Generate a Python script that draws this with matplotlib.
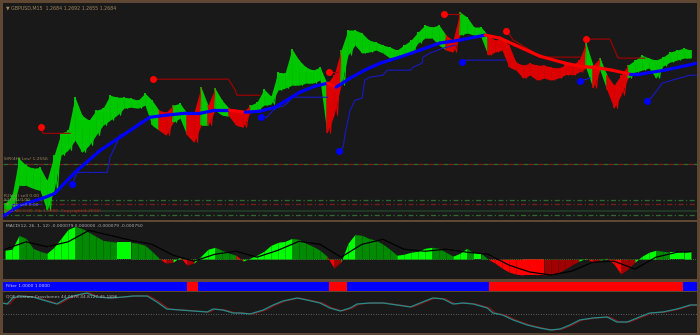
import numpy as np
import matplotlib
matplotlib.use('Agg')
import matplotlib.pyplot as plt
from matplotlib.collections import LineCollection

# ---------------- data ----------------
BASE = 1.2500   # prices below are given in pips above this level
PIP = 0.0001

# one bar every ~7 px; high / low in pips
high_pips = [17, 25, 62, 55, 52, 53, 40, 65, 87, 90,
             123, 105, 100, 110, 112, 125, 123, 123, 122, 120,
             127, 120, 110, 108, 115, 117, 107, 108, 133, 115,
             132, 120, 112, 110, 108, 115, 118, 131, 124, 148,
             147, 171, 160, 153, 150, 153, 137, 145, 170, 190,
             190, 187, 180, 178, 175, 173, 170, 175, 180, 188,
             195, 193, 195, 185, 180, 208, 203, 193, 193, 185,
             180, 182, 175, 158, 155, 157, 155, 155, 153, 152,
             155, 155, 160, 177, 155, 162, 145, 135, 145, 155,
             160, 165, 162, 160, 163, 168, 170, 172, 170]
low_pips = [7, 10, 35, 35, 32, 30, 10, 30, 65, 70,
            80, 68, 75, 85, 95, 100, 105, 112, 113, 112,
            115, 95, 90, 85, 98, 102, 85, 78, 95, 95,
            110, 105, 104, 95, 93, 108, 110, 115, 116, 130,
            132, 135, 135, 137, 137, 140, 87, 105, 135, 165,
            175, 167, 168, 170, 167, 162, 163, 165, 167, 177,
            182, 182, 175, 170, 168, 185, 187, 185, 183, 165,
            168, 170, 153, 150, 142, 145, 140, 142, 140, 142,
            145, 145, 148, 152, 132, 150, 130, 112, 125, 142,
            148, 150, 152, 142, 154, 158, 160, 162, 162]

# thick moving average (bar index, pips)
ma_bar = [-0.3, 2.1, 5.7, 7.1, 10.0, 13.6, 16.4, 20.7, 22.9, 25.7,
          27.9, 30.0, 32.1, 34.3, 36.4, 38.6, 42.1, 44.3, 46.1, 47.3,
          49.3, 51.4, 53.6, 56.4, 59.3, 62.1, 65.0, 68.6, 70.7, 72.9,
          76.4, 80.0, 82.1, 85.0, 86.7, 89.3, 90.7, 94.3, 98.9]
ma_pips = [4, 15, 23, 27, 48, 70, 83, 103, 105, 107,
           107, 110, 110, 108, 109, 113, 128, 134, 137, 133,
           142, 150, 157, 163, 170, 177, 180, 185, 182, 175,
           164, 157, 154, 152, 150, 146, 146, 150, 157]

# thin trailing stops
red_stop_x = [[5.1, 5.4, 9.3], [21.1, 31.9, 32.9, 33.1, 36.4], [46.3, 47.6],
              [62.7, 65.0], [71.6, 72.1, 72.6, 76.7, 82.1], [83.0, 86.4, 87.6, 91.4]]
red_stop_y = [[93, 87, 87], [141, 141, 130, 125, 125], [148, 148],
              [206, 206], [189, 185, 180, 163, 163], [181, 181, 162, 162]]
red_dot_x = [5.1, 21.1, 46.3, 62.7, 71.6, 83.0]
red_dot_y = [93, 141, 148, 206, 189, 181]

blue_stop_x = [[1.0, 1.0, 5.0],
               [9.6, 10.3, 14.6, 15.0, 16.0, 16.4, 17.4, 19.3, 20.3],
               [36.6, 37.4, 38.3, 39.0, 39.7, 40.3, 41.1, 46.1],
               [47.7, 48.3, 48.6, 49.3, 50.0, 51.0, 51.4, 52.1, 54.0, 54.6,
                57.9, 58.3, 59.6, 59.7, 60.7, 62.6, 64.3],
               [65.3, 65.7, 71.4],
               [82.1, 83.6],
               [91.7, 92.4, 93.9, 95.3, 97.9, 98.9]]
blue_stop_y = [[10, 16, 16],
               [36, 48, 48, 63, 78, 85, 88, 98, 102],
               [103, 103, 110, 113, 114, 117, 123, 123],
               [69, 73, 87, 110, 120, 122, 140, 143, 145, 150,
                150, 153, 157, 163, 167, 172, 175],
               [158, 160, 160],
               [139, 142],
               [119, 123, 137, 140, 145, 145]]
blue_dot_x = [9.6, 36.6, 47.7, 65.3, 82.1, 91.7]
blue_dot_y = [36, 103, 69, 158, 139, 119]

# horizontal levels near the bottom of the price window
level_pips = [56, 56, 20, 16, 9, 5]
level_colors = ['#2f6a2f', '#7c1c1c', '#2f6a2f', '#7c1c1c', '#203c27', '#2f6a2f']
level_styles = [(0, (4, 4)), (4, (4, 4)), (0, (4, 2, 1, 2)), (0, (4, 2, 1, 2)), '-', (0, (4, 2, 1, 2))]
level_labels = [(59, 'S/R(4H) Lev/ 1.2556', '#a08860'),
                (22, 'R2(1H) sell 0.00', '#a08860'),
                (18.5, 'S1(4H) 0.00', '#a08860'),
                (13, 'TP(1H) sell 0.00', '#a08860'),
                (7.5, 'SELL 4H 0.00  Fib 1.2500  Copyright(4,2016)', '#d02020')]

# MACD histogram (units of 1e-5), one value per bar
macd_vals = [18, 20, 48, 42, 22, 16, 12, 24, 42, 60,
             66, 62, 54, 46, 38, 36, 34, 34, 34, 32,
             28, 16, 2, -8, -6, 4, -12, -8, 6, 20,
             24, 18, 12, 8, -4, 2, 8, 16, 28, 34,
             36, 42, 40, 32, 26, 18, 6, -18, -6, 32,
             50, 48, 42, 38, 30, 20, 8, 10, 14, 16,
             22, 24, 22, 14, 6, 12, 22, 12, 12, 0,
             -8, -18, -26, -30, -32, -32, -32, -32, -30, -28,
             -20, -12, -4, 2, -6, -2, 2, -10, -30, -20,
             -6, 6, 14, 18, 16, 14, 14, 14, 16]
signal_bar = [0, 3, 6, 9, 12, 15, 18, 21, 24, 27, 30, 33, 36, 39, 42, 45, 48,
              51, 54, 57, 60, 63, 66, 69, 72, 75, 78, 81, 84, 87, 90, 93, 96, 98]
signal_vals = [20, 35, 25, 35, 58, 48, 38, 30, 8, -4, 10, 16, 4, 18, 36, 30, 4,
               30, 40, 20, 16, 20, 14, 10, -12, -26, -32, -24, -6, -4, -20, 4, 14, 15]

# filter strip: red stretches (bar index), blue elsewhere
filter_red_from = [26.0, 46.3, 69.1]
filter_red_to = [27.6, 48.9, 96.9]

# bottom oscillator
qqe_bar = [-0.4, 0.3, 1.1, 2.1, 4.0, 5.4, 7.4, 8.9, 10.3, 11.7,
           13.1, 15.0, 16.9, 18.3, 20.3, 21.7, 23.1, 25.0, 26.9, 28.9,
           29.7, 31.1, 32.6, 33.6, 35.0, 36.9, 38.3, 39.7, 41.7, 43.1,
           45.0, 46.4, 47.9, 49.3, 50.3, 52.1, 54.0, 56.0, 57.9, 59.3,
           61.1, 62.6, 64.0, 65.4, 66.9, 68.9, 69.7, 71.1, 72.6, 74.6,
           76.4, 77.9, 79.3, 80.7, 82.1, 84.0, 86.0, 87.4, 88.9, 90.3,
           92.1, 94.0, 96.0, 97.9, 98.9]
qqe_vals = [61, 60, 66, 68, 67, 64, 60, 66, 69, 71,
            67, 66, 67, 68, 68, 62, 55, 54, 53, 52,
            55, 54, 51, 51, 50, 54, 59, 63, 66, 64,
            61, 56, 53, 56, 60, 61, 61, 59, 57, 61,
            66, 65, 60, 61, 60, 56, 51, 49, 44, 39,
            36, 34, 35, 39, 44, 46, 47, 42, 42, 46,
            51, 52, 55, 59, 59]

# ---------------- style ----------------
W, H = 700, 335
BG = '#191919'
FRAME = '#5e4834'
TXT = '#a08860'
GREEN = '#00c800'
RED = '#dc0000'

def to_price(p):
    return BASE + np.asarray(p, dtype=float) * PIP

fig = plt.figure(figsize=(W / 100, H / 100), dpi=100, facecolor=FRAME)

def panel(y_top, y_bot, face=BG):
    ax = fig.add_axes([3 / W, 1 - y_bot / H, 694 / W, (y_bot - y_top) / H])
    ax.set_facecolor(face)
    ax.set_xlim(-0.29, 98.86)
    ax.set_xticks([])
    ax.set_yticks([])
    for s in ax.spines.values():
        s.set_visible(False)
    return ax

n = len(high_pips)
xb = np.arange(n)
hi = to_price(high_pips)
lo = to_price(low_pips)
ma_y = to_price(ma_pips)

# ---------------- main price panel ----------------
ax = panel(3, 219.5)
ax.set_ylim(to_price(1), to_price(217))

for lv, c, ls in zip(level_pips, level_colors, level_styles):
    ax.axhline(to_price(lv), color=c, ls=ls, lw=1.3 if ls == '-' else 0.9, zorder=1)
for lv, txt, c in level_labels:
    ax.text(-0.1, to_price(lv), txt, fontsize=3.2, color=c, va='bottom', ha='left', zorder=6)

ma_at_bar = np.interp(xb, ma_bar, ma_y)
mid = (hi + lo) / 2
bar_col = [GREEN if m >= a else RED for m, a in zip(mid, ma_at_bar)]
for i in range(n - 1):
    ax.fill_between(xb[i:i + 2], lo[i:i + 2], hi[i:i + 2], color=bar_col[i], lw=0, zorder=2)
ax.vlines(xb, lo, hi, colors=bar_col, lw=1.1, zorder=2)
# jagged edge: each bar's low also drawn half a bar to its right
zig = []
for i in range(n - 1):
    zig.append([(xb[i], hi[i]), (xb[i] + 0.5, lo[i]), (xb[i + 1], hi[i + 1])])
ax.add_collection(LineCollection(zig, colors=bar_col[:-1], linewidths=0.8, zorder=2))

for sx, sy in zip(red_stop_x, red_stop_y):
    ax.plot(sx, to_price(sy), color='#a80000', lw=0.8, zorder=3)
for sx, sy in zip(blue_stop_x, blue_stop_y):
    ax.plot(sx, to_price(sy), color='#1818c8', lw=0.8, zorder=3)
ax.plot(red_dot_x, to_price(red_dot_y), 'o', color='#ff0000', ms=4, zorder=4)
ax.plot(blue_dot_x, to_price(blue_dot_y), 'o', color='#0000ff', ms=4, zorder=4)

pts = np.column_stack([ma_bar, ma_y])
segs = np.stack([pts[:-1], pts[1:]], axis=1)
ma_cols = ['#ff0000' if b < a else '#0000ff' for a, b in zip(ma_y[:-1], ma_y[1:])]
ax.add_collection(LineCollection(segs, colors=ma_cols, linewidths=2.3,
                                 capstyle='round', zorder=5))

ax.text(0.004, 0.99, '\u25bc GBPUSD,M15  1.2684 1.2692 1.2655 1.2684', transform=ax.transAxes,
        fontsize=3.4, color=TXT, va='top', ha='left')

# ---------------- MACD panel ----------------
axm = panel(221.5, 279)
axm.set_ylim(-40e-5, 76e-5)
mv = np.array(macd_vals) * 1e-5
for i in range(n - 1):
    v0, v1 = mv[i], mv[i + 1]
    if v1 >= 0:
        c = '#00ff00' if v1 >= v0 else '#008a00'
    else:
        c = '#ff0000' if v1 <= v0 else '#a00000'
    axm.fill_between(xb[i:i + 2], 0, mv[i:i + 2], color=c, lw=0)
axm.axhline(0, color='#3c8a3c', ls=(0, (1, 1.5)), lw=0.6)
axm.plot(signal_bar, np.array(signal_vals) * 1e-5, color='black', lw=0.9)
axm.text(0.004, 0.96, 'MACD(12, 26, 1, 12) -0.000079 0.000000 -0.000079 -0.000750',
         transform=axm.transAxes, fontsize=3.2, color='#b0b0b0', va='top', ha='left')

# ---------------- filter strip ----------------
axf = panel(281.5, 290.5, face='#0000ff')
axf.set_ylim(0, 1)
for a, b in zip(filter_red_from, filter_red_to):
    axf.axvspan(a, b, color='#ff0000', lw=0)
axf.text(0.004, 0.5, 'Filter 1.0000 1.0000', transform=axf.transAxes,
         fontsize=3.2, color='#d0d0ff', va='center', ha='left')

# ---------------- bottom oscillator ----------------
axq = panel(292, 332.5)
axq.set_ylim(31.5, 72)
axq.axhline(50, color='#7a7a7a', ls=(0, (1, 2)), lw=0.6)
axq.plot(np.array(qqe_bar) + 0.35, qqe_vals, color='#8c1010', lw=0.9)
axq.plot(qqe_bar, qqe_vals, color='#1f8f8f', lw=0.9)
axq.text(0.004, 0.93, 'QQE Custom Crossbones 44.0876 44.8127 45.1896',
         transform=axq.transAxes, fontsize=3.2, color='#b0b0b0', va='top', ha='left')

fig.savefig('out.png', dpi=100, facecolor=FRAME)
